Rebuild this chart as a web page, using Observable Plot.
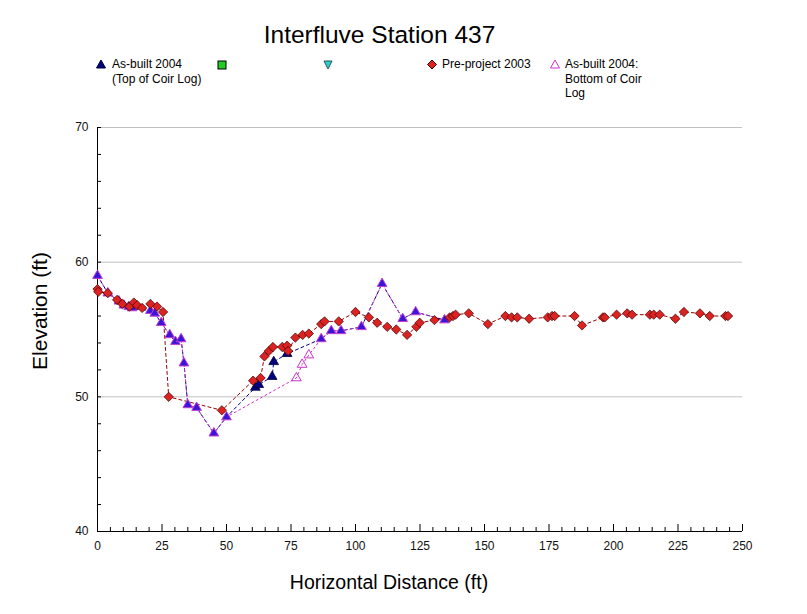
<!DOCTYPE html>
<html><head><meta charset="utf-8">
<script src="https://cdn.jsdelivr.net/npm/d3@7"></script>
<script src="https://cdn.jsdelivr.net/npm/@observablehq/plot@0.6"></script>
<style>
body{margin:0;background:#fff;font-family:"Liberation Sans",Arial,sans-serif;}
#wrap{position:relative;width:807px;height:614px;overflow:hidden;background:#fff;}
#chart{position:absolute;left:0;top:0;}
.t{position:absolute;white-space:nowrap;color:#000;}
.lg{position:absolute;font-size:12px;line-height:14.5px;color:#000;white-space:nowrap;}
</style></head><body><div id="wrap">
<div id="chart"></div>
<div class="t" style="left:0;width:759px;text-align:center;top:21px;font-size:24.5px;">Interfluve Station 437</div>
<div class="t" style="left:40px;top:311px;font-size:21px;transform:translate(-50%,-50%) rotate(-90deg);">Elevation (ft)</div>
<div class="t" style="left:389px;top:582px;font-size:19.5px;transform:translate(-50%,-50%);">Horizontal Distance (ft)</div>
<svg id="legsym" width="807" height="110" style="position:absolute;left:0;top:0;overflow:visible"></svg>
<div class="lg" style="left:112px;top:57px;">As-built 2004<br>(Top of Coir Log)</div>
<div class="lg" style="left:442px;top:57px;">Pre-project 2003</div>
<div class="lg" style="left:565px;top:57px;">As-built 2004:<br>Bottom of Coir<br>Log</div>
</div>
<script>
// Pre-project 2003 survey
const preX = [0, 0.3, 4.0, 7.6, 9.6, 12.4, 14.1, 15.4, 17.3, 20.5, 23.1, 25.4, 27.6, 48.2, 60.3, 63.2, 64.7, 66.4, 68.0, 71.6, 73.5, 73.9, 76.7, 79.5, 81.9, 86.7, 88.0, 93.5, 100.0, 105.2, 108.4, 112.3, 115.8, 120.0, 123.6, 124.9, 130.6, 136.5, 137.8, 138.8, 143.9, 151.3, 158.1, 160.5, 162.7, 167.3, 174.5, 176.2, 177.2, 184.9, 187.8, 195.9, 196.6, 201.2, 205.3, 207.2, 214.1, 215.6, 217.9, 224.0, 227.3, 233.5, 237.3, 243.4, 244.4];
const preY = [58.0, 57.8, 57.7, 57.2, 56.9, 56.7, 57.0, 56.8, 56.6, 56.9, 56.7, 56.3, 50.0, 49.0, 51.2, 51.4, 53.0, 53.4, 53.7, 53.7, 53.8, 53.4, 54.4, 54.6, 54.7, 55.4, 55.6, 55.6, 56.3, 55.9, 55.5, 55.2, 55.0, 54.6, 55.2, 55.5, 55.7, 55.9, 56.0, 56.1, 56.2, 55.4, 56.0, 55.9, 55.9, 55.8, 55.9, 56.0, 56.0, 56.0, 55.3, 55.9, 55.9, 56.1, 56.2, 56.1, 56.1, 56.1, 56.1, 55.8, 56.3, 56.2, 56.0, 56.0, 56.0];
// As-built 2004 (Top of Coir Log)
const topLogX = [0, 4.0, 8.3, 10.2, 12.1, 13.4, 20.5, 22.2, 24.7, 28.0, 30.2, 32.4, 33.5, 35.0, 38.4, 45.1, 50.0, 61.2, 62.5, 67.7, 68.3, 73.5, 86.7, 90.6, 94.4, 102.3, 110.3, 118.3, 123.3, 134.5];
const topLogY = [59.0, 57.7, 57.1, 56.8, 56.7, 56.6, 56.4, 56.2, 55.5, 54.6, 54.1, 54.3, 52.5, 49.4, 49.2, 47.3, 48.5, 50.7, 50.9, 51.5, 52.6, 53.2, 54.3, 54.9, 54.9, 55.2, 58.4, 55.8, 56.3, 55.7];
// As-built 2004: Bottom of Coir Log
const botLogX = [0, 4.0, 8.3, 10.2, 12.1, 13.4, 20.5, 22.2, 24.7, 28.0, 30.2, 32.4, 33.5, 35.0, 38.4, 45.1, 50.0, 77.1, 79.3, 81.9, 86.7, 90.6, 94.4, 102.3, 110.3, 118.3, 123.3, 134.5];
const botLogY = [59.0, 57.7, 57.1, 56.8, 56.7, 56.6, 56.4, 56.2, 55.5, 54.6, 54.1, 54.3, 52.5, 49.4, 49.2, 47.3, 48.5, 51.4, 52.4, 53.1, 54.3, 54.9, 54.9, 55.2, 58.4, 55.8, 56.3, 55.7];
const xTicks = [0, 25, 50, 75, 100, 125, 150, 175, 200, 225, 250];
const yTicks = [40, 50, 60, 70];

const preData = preX.map((x, i) => ({x, y: preY[i]}));
const topData = topLogX.map((x, i) => ({x, y: topLogY[i]}));
const botData = botLogX.map((x, i) => ({x, y: botLogY[i]}));
const keyOf = d => d.x + "|" + d.y;
const botKeys = new Set(botData.map(keyOf));
const topKeys = new Set(topData.map(keyOf));
const sharedData = topData.filter(d => botKeys.has(keyOf(d)));
const topOnly = topData.filter(d => !botKeys.has(keyOf(d)));
const botOnly = botData.filter(d => !topKeys.has(keyOf(d)));

const W = 807, H = 614, mL = 97, mR = 65, mT = 127, mB = 83;
const frameH = H - mT - mB;
const minorX = d3.range(0, 251, 5).filter(v => v % 25 !== 0);
const minorY = d3.range(40, 71, 2);

const chart = Plot.plot({
  width: W, height: H,
  marginLeft: mL, marginRight: mR, marginTop: mT, marginBottom: mB,
  x: {domain: [0, 250]},
  y: {domain: [40, 70]},
  style: {fontFamily: "Liberation Sans, Arial, sans-serif", fontSize: "12px", color: "#000", background: "transparent"},
  marks: [
    Plot.ruleY([50, 60, 70], {stroke: "#c0c0c0", strokeWidth: 1}),
    // inward tick marks on the x axis (frame-anchored rules)
    Plot.ruleX(minorX, {x: d => d, insetTop: frameH - 4, stroke: "#000", strokeWidth: 1}),
    Plot.ruleX(xTicks, {x: d => d, insetTop: frameH - 7, stroke: "#000", strokeWidth: 1}),
    Plot.ruleY(minorY, {y: d => d, x1: 0, x2: 0, insetRight: -4, stroke: "#000"}),
    Plot.axisX({ticks: xTicks, tickSize: 0, tickPadding: 10, label: null, fill: "#111"}),
    Plot.axisY({ticks: yTicks, tickSize: 0, tickPadding: 9, label: null, fill: "#111"}),
    Plot.ruleX([0], {stroke: "#000"}),
    Plot.ruleY([40], {stroke: "#000"}),
    Plot.line(preData, {x: "x", y: "y", stroke: "#990000", strokeWidth: 1, strokeDasharray: "3,3"}),
    Plot.line(topData, {x: "x", y: "y", stroke: "#000080", strokeWidth: 1, strokeDasharray: "3,3"}),
    Plot.line(botData, {x: "x", y: "y", stroke: "#cc33cc", strokeWidth: 1, strokeDasharray: "2,3"}),
    Plot.dot(topOnly, {x: "x", y: "y", symbol: "triangle", r: 3.6, fill: "#000080", stroke: "#000033", strokeWidth: 0.8}),
    Plot.dot(sharedData, {x: "x", y: "y", symbol: "triangle", r: 3.6, fill: "#3c14d8", stroke: "#c040d0", strokeWidth: 1}),
    Plot.dot(botOnly, {x: "x", y: "y", symbol: "triangle", r: 3.6, fill: "none", stroke: "#cc33cc", strokeWidth: 1}),
    Plot.dot(preData, {x: "x", y: "y", symbol: "diamond2", r: 4.2, fill: "#dd2222", stroke: "#3a0000", strokeWidth: 0.7})
  ]
});
document.getElementById("chart").appendChild(chart);

// legend symbols
const lg = d3.select("#legsym");
lg.append("path").attr("d", "M101,60 L105.5,68 L96.5,68 Z").attr("fill", "#000080").attr("stroke", "#000033");
lg.append("rect").attr("x", 218).attr("y", 61).attr("width", 8).attr("height", 8).attr("fill", "#22cc22").attr("stroke", "#000");
lg.append("path").attr("d", "M324,61 L332,61 L328,69 Z").attr("fill", "#33cccc").attr("stroke", "#225555");
lg.append("path").attr("d", "M432,60 L436.5,64.5 L432,69 L427.5,64.5 Z").attr("fill", "#dd2222").attr("stroke", "#3a0000");
lg.append("path").attr("d", "M555,60 L559.5,68 L550.5,68 Z").attr("fill", "none").attr("stroke", "#cc33cc");
</script>
</body></html>
